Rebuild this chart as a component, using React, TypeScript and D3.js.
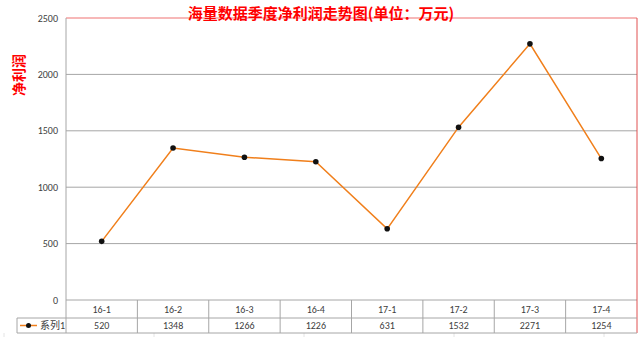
import React from "react";
import * as d3 from "d3";

const categories = ["16-1", "16-2", "16-3", "16-4", "17-1", "17-2", "17-3", "17-4"];
const values = [520, 1348, 1266, 1226, 631, 1532, 2271, 1254];
const yTicks = [0, 500, 1000, 1500, 2000, 2500];
const seriesName = "系列1";
const title = "海量数据季度净利润走势图(单位：万元)";
const yTitle = "净利润";

export default function App() {
  const W = 640, H = 337;
  const left = 66, right = 637, top = 18, bottom = 300;
  const row1 = 318, row2 = 333;
  const x = d3.scaleBand<string>().domain(categories).range([left, right]);
  const y = d3.scaleLinear().domain([0, 2500]).range([bottom, top]);
  const line = d3.line<number>()
    .x((_, i) => (x(categories[i]) as number) + x.bandwidth() / 2)
    .y((d) => y(d));
  const font = "Calibri, 'Liberation Sans', 'Noto Sans CJK SC', sans-serif";
  const gridColor = "#a6a6a6";
  return (
    <svg width={W} height={H} style={{ position: "absolute", left: 0, top: 0, background: "#fff" }}>
      {[0, 150, 300, 450, 600].map((xx, i) => (
        <line key={"sc" + i} x1={xx + 4} x2={xx + 4} y1={333} y2={H} stroke="#e4e4e4" />
      ))}
      {yTicks.map((t) => (
        <g key={t}>
          <line x1={left} x2={right} y1={y(t)} y2={y(t)} stroke={t === 2500 ? "#f4a0a0" : gridColor} strokeWidth={t === 2500 ? 1.5 : 1} />
          <text x={58} y={y(t) + 3.5} textAnchor="end" fontSize={10} fill="#404040" fontFamily={font}>{t}</text>
        </g>
      ))}
      <line x1={left} x2={left} y1={top} y2={row2} stroke={gridColor} />
      <line x1={right} x2={right} y1={top} y2={row2} stroke="#e05050" />
      <line x1={left} x2={right} y1={row1} y2={row1} stroke={gridColor} />
      <line x1={17} x2={right} y1={row2} y2={row2} stroke={gridColor} />
      <line x1={17} x2={left} y1={row1} y2={row1} stroke={gridColor} />
      <line x1={17} x2={17} y1={row1} y2={row2} stroke={gridColor} />
      {categories.map((c, i) => {
        const cx = (x(c) as number) + x.bandwidth() / 2;
        return (
          <g key={c}>
            {i > 0 && <line x1={x(c)} x2={x(c)} y1={bottom} y2={row2} stroke={gridColor} />}
            <text x={cx} y={312.5} textAnchor="middle" fontSize={10} fill="#404040" fontFamily={font}>{c}</text>
            <text x={cx} y={329} textAnchor="middle" fontSize={10} fill="#404040" fontFamily={font}>{values[i]}</text>
          </g>
        );
      })}
      <line x1={20} x2={37} y1={325.5} y2={325.5} stroke="#f07f1b" strokeWidth={1.5} />
      <circle cx={28.5} cy={325.5} r={2.5} fill="#111" />
      <text x={40} y={329} fontSize={10} fill="#404040" fontFamily={font}>{seriesName}</text>
      <path d={line(values) || ""} fill="none" stroke="#f07f1b" strokeWidth={1.5} />
      {values.map((v, i) => (
        <circle key={i} cx={(x(categories[i]) as number) + x.bandwidth() / 2} cy={y(v)} r={2.8} fill="#111" />
      ))}
      <text x={321} y={19} textAnchor="middle" fontSize={15} fontWeight="bold" fill="#ff0000" fontFamily="'Noto Sans CJK SC', sans-serif">{title}</text>
      <text transform="translate(24,75) rotate(-90)" textAnchor="middle" fontSize={14} fontWeight="bold" fill="#ff0000" fontFamily="'Noto Sans CJK SC', sans-serif">{yTitle}</text>
    </svg>
  );
}
